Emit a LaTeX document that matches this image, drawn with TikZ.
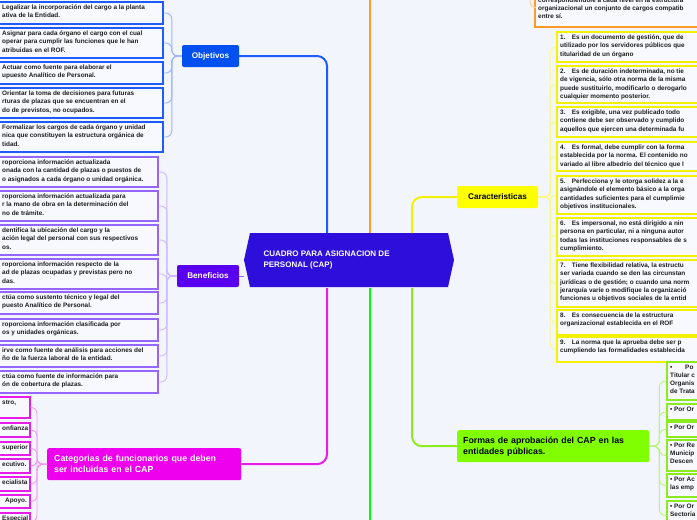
\documentclass[tikz,border=0pt]{standalone}
\usepackage{fontspec}
\setmainfont{Liberation Sans}
\definecolor{bg}{HTML}{F3F5FD}
\definecolor{cobj}{HTML}{1E5BFF}
\definecolor{cobjf}{HTML}{0050F0}
\definecolor{cben}{HTML}{9466FF}
\definecolor{cbenf}{HTML}{5A00F0}
\definecolor{ccat}{HTML}{E81CE8}
\definecolor{ccatf}{HTML}{EE00EE}
\definecolor{cyel}{HTML}{F2F200}
\definecolor{cyelf}{HTML}{FFFF00}
\definecolor{cgrn}{HTML}{8CEB1E}
\definecolor{cgrnf}{HTML}{80FF00}
\definecolor{corg}{HTML}{FF9A2A}
\definecolor{cctr}{HTML}{2E0EDB}
\definecolor{ctxt}{HTML}{1E1E1E}
\newcommand{\bx}[7]{%
  \node[leaf,draw=#6,minimum width=#4-#2,minimum height=#5-#3] (#1) at ({(#2+#4)/2},{(#3+#5)/2}) {};
  \node[ltext] (#1t) at ({max(#2,-1)+2},#3+2) {#7};}
\begin{document}
\begin{tikzpicture}[x=1pt,y=-1pt,
  leaf/.style={rectangle,line width=1.1pt,fill=bg!60!white,inner sep=0pt},
  ltext/.style={anchor=north west,align=left,inner sep=1pt,font=\fontsize{6.4}{8.1}\selectfont\bfseries,text=ctxt},
  main/.style={rounded corners=2pt,inner sep=0pt,font=\fontsize{8.2}{10.5}\selectfont\bfseries,align=left},
  conn/.style={line width=0.9pt,rounded corners=6pt},
  trunk/.style={line width=2pt,rounded corners=10pt}]
\fill[bg] (0,0) rectangle (697,520);
\useasboundingbox (0,0) rectangle (697,520);
\clip (0,0) rectangle (697,520);

% trunks
\coordinate (oTop) at (370,0);
\coordinate (oBot) at (370,233);
\coordinate (gTop) at (370,288);
\coordinate (gBot) at (370,520);
\draw[corg,line width=2pt] (oTop) -- (oBot);
\draw[green,line width=2pt] (gTop) -- (gBot);

% center
\fill[cctr] (244,260) -- (250,233) -- (448,233) -- (454,260) -- (448,287) -- (250,287) -- cycle;
\node[anchor=west,align=left,text=white,font=\fontsize{8}{10.8}\selectfont\bfseries] (ctr) at (260,260) {CUADRO PARA ASIGNACION DE\\PERSONAL (CAP)};
\coordinate (cNW) at (327,233);
\coordinate (cSW) at (327,288);
\coordinate (cNE) at (412,233);
\coordinate (cSE) at (412,288);
\coordinate (cW) at (244,276);

% main nodes
\node[main,fill=cobjf,text=white,minimum width=57pt,minimum height=22pt,align=center] (obj) at (210.5,56) {Objetivos};
\node[main,fill=cbenf,text=white,minimum width=62pt,minimum height=22pt,align=center] (ben) at (208,276) {Beneficios};
\node[main,fill=ccatf,text=white,minimum width=192pt,minimum height=32pt,anchor=north west,text width=180pt,inner xsep=7pt,font=\fontsize{8.8}{11}\selectfont\bfseries] (cat) at (47,448) {Categorias de funcionarios que deben\\ser incluidas en el CAP};
\node[main,fill=cyelf,text=black,minimum width=81pt,minimum height=22pt,align=center] (car) at (497.5,197) {Caracteristicas};
\node[main,fill=cgrnf,text=black,minimum width=191pt,minimum height=32pt,anchor=north west,text width=180pt,inner xsep=6pt,font=\fontsize{8.8}{11}\selectfont\bfseries] (for) at (457,430) {Formas de aprobación del CAP en las\\entidades públicas.};

\draw[cobj,trunk] (obj.east) -| (cNW);
\draw[ccat,trunk] (cat.east) -| (cSW);
\draw[cyel,trunk] (car.west) -| (cNE);
\draw[cgrn,trunk] (for.west) -| (cSE);
\draw[cben,line width=1pt] (ben.east) -- (cW);

% objetivos
\bx{o1}{-10}{2}{163}{24}{cobj}{Legalizar la incorporación del cargo a la planta\\ativa de la Entidad.}
\bx{o2}{-10}{28}{163}{58}{cobj}{Asignar para cada órgano el cargo con el cual\\ operar para cumplir las funciones que le han\\atribuidas en el ROF.}
\bx{o3}{-10}{62}{163}{84}{cobj}{Actuar como fuente para elaborar el\\upuesto Analítico de Personal.}
\bx{o4}{-10}{88}{163}{118}{cobj}{Orientar la toma de decisiones para futuras\\rturas de plazas que se encuentran en el\\do de previstos, no ocupados.}
\bx{o5}{-10}{122}{163}{152}{cobj}{Formalizar los cargos de cada órgano y unidad\\nica que constituyen la estructura orgánica de\\tidad.}
\foreach \n in {o1,o2,o3,o4,o5} \draw[cobj!45,conn] (obj.west) -- ++(-10,0) |- (\n.east);

% beneficios
\bx{b1}{-10}{157}{158}{187}{cben}{roporciona información actualizada\\onada con la cantidad de plazas o puestos de\\o asignados a cada órgano o unidad orgánica.}
\bx{b2}{-10}{191}{158}{221}{cben}{roporciona información actualizada para\\r la mano de obra en la determinación del\\no de trámite.}
\bx{b3}{-10}{225}{158}{255}{cben}{dentifica la ubicación del cargo y la\\ación legal del personal con sus respectivos\\os.}
\bx{b4}{-10}{259}{158}{289}{cben}{roporciona información respecto de la\\ad de plazas ocupadas y previstas pero no\\das.}
\bx{b5}{-10}{292}{158}{314}{cben}{ctúa como sustento técnico y legal del\\puesto Analítico de Personal.}
\bx{b6}{-10}{319}{158}{341}{cben}{roporciona información clasificada por\\os y unidades orgánicas.}
\bx{b7}{-10}{345}{158}{367}{cben}{irve como fuente de análisis para acciones del\\ño de la fuerza laboral de la entidad.}
\bx{b8}{-10}{371}{158}{393}{cben}{ctúa como fuente de información para\\ón de cobertura de plazas.}
\foreach \n in {b1,b2,b3,b4,b5,b6,b7,b8} \draw[cben!45,conn] (ben.west) -- ++(-10,0) |- (\n.east);

% categorias
\bx{k1}{-10}{397}{30}{418}{ccat}{stro,}
\bx{k2}{-10}{423}{30}{437}{ccat}{onfianza}
\bx{k3}{-10}{442}{30}{455}{ccat}{superior}
\bx{k4}{-10}{459}{30}{473}{ccat}{ecutivo.}
\bx{k5}{-10}{477}{30}{491}{ccat}{ecialista}
\bx{k6}{-10}{495}{30}{508}{ccat}{\hspace{3pt}Apoyo.}
\bx{k7}{-10}{513}{30}{530}{ccat}{Especial}
\foreach \n in {k1,k2,k3,k4,k5,k6,k7} \draw[ccat!45,conn] (cat.west) -- ++(-10,0) |- (\n.east);

% orange box
\bx{or1}{535}{-12}{705}{27}{corg}{\phantom{x}\\correspondiéndole a cada nivel en la estructura\\organizacional un conjunto de cargos compatib\\entre sí.}
\coordinate (orJ) at (530,-20);
\draw[corg!50,conn] (orJ) |- (or1.west);

% caracteristicas
\bx{c1}{557}{32}{705}{62}{cyel}{1.\quad Es un documento de gestión, que de\\utilizado por los servidores públicos que\\titularidad de un órgano}
\bx{c2}{557}{66}{705}{103}{cyel}{2.\quad Es de duración indeterminada, no tie\\de vigencia, sólo otra norma de la misma\\puede sustituirlo, modificarlo o derogarlo\\cualquier momento posterior.}
\bx{c3}{557}{107}{705}{137}{cyel}{3.\quad Es exigible, una vez publicado todo\\contiene debe ser observado y cumplido\\aquellos que ejercen una determinada fu}
\bx{c4}{557}{142}{705}{171}{cyel}{4.\quad Es formal, debe cumplir con la forma\\establecida por la norma. El contenido no\\variado al libre albedrío del técnico que l}
\bx{c5}{557}{176}{705}{214}{cyel}{5.\quad Perfecciona y le otorga solidez a la e\\asignándole el elemento básico a la orga\\cantidades suficientes para el cumplimie\\objetivos institucionales.}
\bx{c6}{557}{218}{705}{256}{cyel}{6.\quad Es impersonal, no está dirigido a nin\\persona en particular, ni a ninguna autor\\todas las instituciones responsables de s\\cumplimiento.}
\bx{c7}{557}{260}{705}{307}{cyel}{7.\quad Tiene flexibilidad relativa, la estructu\\ser variada cuando se den las circunstan\\jurídicas o de gestión; o cuando una norm\\jerarquía varíe o modifique la organizació\\funciones u objetivos sociales de la entid}
\bx{c8}{557}{310}{705}{335}{cyel}{8.\quad Es consecuencia de la estructura\\organizacional establecida en el ROF}
\bx{c9}{557}{337}{705}{362}{cyel}{9.\quad La norma que la aprueba debe ser p\\cumpliendo las formalidades establecida}
\foreach \n in {c1,c2,c3,c4,c5,c6,c7,c8,c9} \draw[cyel!45,conn] (car.east) -- ++(12,0) |- (\n.west);

% formas
\bx{f1}{667}{362}{705}{400}{cgrn}{•\qquad Po\\Titular c\\Organis\\de Trata}
\bx{f2}{667}{404}{705}{420}{cgrn}{• Por Or}
\bx{f3}{667}{422}{705}{437}{cgrn}{• Por Or}
\bx{f4}{667}{440}{705}{471}{cgrn}{• Por Re\\Municip\\Descen}
\bx{f5}{667}{474}{705}{497}{cgrn}{• Por Ac\\las emp}
\bx{f6}{667}{501}{705}{530}{cgrn}{• Por Or\\Sectoria}
\foreach \n in {f1,f2,f3,f4,f5,f6} \draw[cgrn!60,conn] (for.east) -- ++(10,0) |- (\n.west);
\end{tikzpicture}
\end{document}
